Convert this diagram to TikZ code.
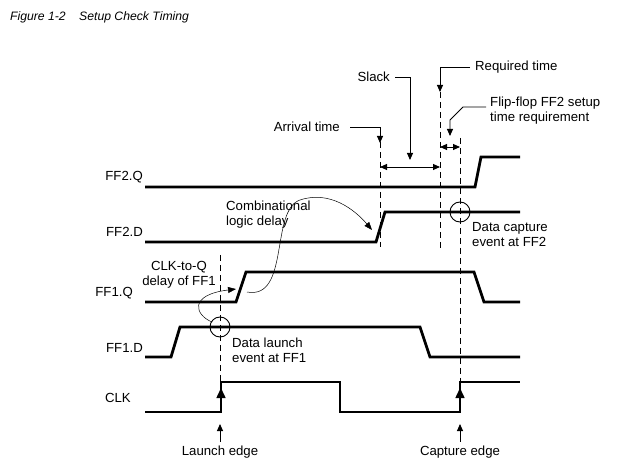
\documentclass[tikz,border=0pt]{standalone}
\usepackage{fontspec}
\setmainfont{Liberation Sans}
\usetikzlibrary{arrows.meta}
\begin{document}
\begin{tikzpicture}[x=1pt,y=-1pt,
  wave/.style={line width=2.8pt},
  dsh/.style={dash pattern=on 6pt off 4pt,line width=0.9pt},
  lead/.style={line width=0.9pt,-{Triangle[length=7pt,width=6pt]}},
  dbl/.style={line width=0.9pt,{Triangle[length=7pt,width=6pt]}-{Triangle[length=7pt,width=6pt]}},
  lbl/.style={font=\fontsize{13.2}{15}\selectfont,inner sep=0pt,align=left},
  curve/.style={line width=0.5pt,-{Triangle[length=8pt,width=6pt]}}]
\useasboundingbox (0,0) rectangle (633,476);
\node[lbl,anchor=west,font=\fontsize{12.2}{14}\selectfont\itshape] (title) at (10,17) {Figure 1-2\hspace{1.1em}Setup Check Timing};
% signal names
\node[lbl,anchor=east] (nq2) at (143,177) {FF2.Q};
\node[lbl,anchor=east] (nd2) at (143,232) {FF2.D};
\node[lbl,anchor=east] (nq1) at (133,293) {FF1.Q};
\node[lbl,anchor=east] (nd1) at (143,348) {FF1.D};
\node[lbl,anchor=east] (nclk) at (131,398) {CLK};
% waveforms
\draw[wave] (145,187) -- (475,187) -- (481,157) -- (520,157);
\draw[wave] (145,242) -- (376,242) -- (385,212) -- (520,212);
\draw[wave] (145,302) -- (236,302) -- (246,272) -- (474,272) -- (484,302) -- (520,302);
\draw[wave] (145,357) -- (171,357) -- (180,327) -- (420,327) -- (430,357) -- (520,357);
\draw[wave] (145,412) -- (221,412) -- (221,382) -- (340,382) -- (340,412) -- (460,412) -- (460,382) -- (520,382);
% dashed lines
\draw[dsh] (220,255) -- (220,405);
\draw[dsh] (380,142) -- (380,247);
\draw[dsh] (440,92) -- (440,250);
\draw[dsh] (460,138) -- (460,400);
% clock edge arrows
\coordinate (ce1) at (221,388);
\coordinate (ce2) at (460,388);
\draw[line width=1.5pt,-{Triangle[length=10pt,width=9pt]}] (221,405) -- (ce1);
\draw[line width=1.5pt,-{Triangle[length=10pt,width=9pt]}] (460,405) -- (ce2);
% circles
\node[draw,circle,minimum size=20pt,inner sep=0pt,line width=0.9pt] (c1) at (220,327) {};
\node[draw,circle,minimum size=20pt,inner sep=0pt,line width=0.9pt] (c2) at (460,212) {};
% top annotations
\node[lbl,anchor=east] (slack) at (390,77) {Slack};
\coordinate (sl) at (410,160);
\draw[lead] (slack.east)++(5,0) -| (sl);
\draw[dbl] (380,167) -- (440,167);
\node[lbl,anchor=west] (req) at (475,67) {Required time};
\coordinate (rq) at (440,92);
\draw[lead] (req.west)++(-5,0) -| (rq);
\node[lbl,anchor=east] (arr) at (340,127) {Arrival time};
\coordinate (ar) at (380,143);
\draw[lead] (arr.east)++(10,0) -| (ar);
\node[lbl,anchor=west] (ffs) at (490,111) {Flip-flop FF2 setup\\time requirement};
\coordinate (fs) at (450,136);
\draw[lead] (486,107) -- (463,107) -- (450,120) -- (fs);
\draw[dbl] (440,147) -- (460,147);
% middle annotations
\node[lbl,anchor=west] (comb) at (226,215) {Combinational\\logic delay};
\coordinate (cd) at (372,230);
\draw[curve] (247,292) .. controls (290,300) and (270,210) .. (300,200) .. controls (330,190) and (355,210) .. (cd);
\node[lbl,align=center] (ckq) at (179,275) {CLK-to-Q\\delay of FF1};
\coordinate (cq) at (236,289);
\draw[curve] (212,322) .. controls (195,315) and (188,295) .. (cq);
\node[lbl,anchor=west] (dl) at (232,350) {Data launch\\event at FF1};
\node[lbl,anchor=west] (dc) at (472,235) {Data capture\\event at FF2};
% bottom
\node[lbl] (le) at (220,452) {Launch edge};
\node[lbl] (cpe) at (460,452) {Capture edge};
\draw[lead] (le.north)++(0,-4) -- (220,424);
\draw[lead] (cpe.north)++(0,-4) -- (460,424);
\end{tikzpicture}
\end{document}
